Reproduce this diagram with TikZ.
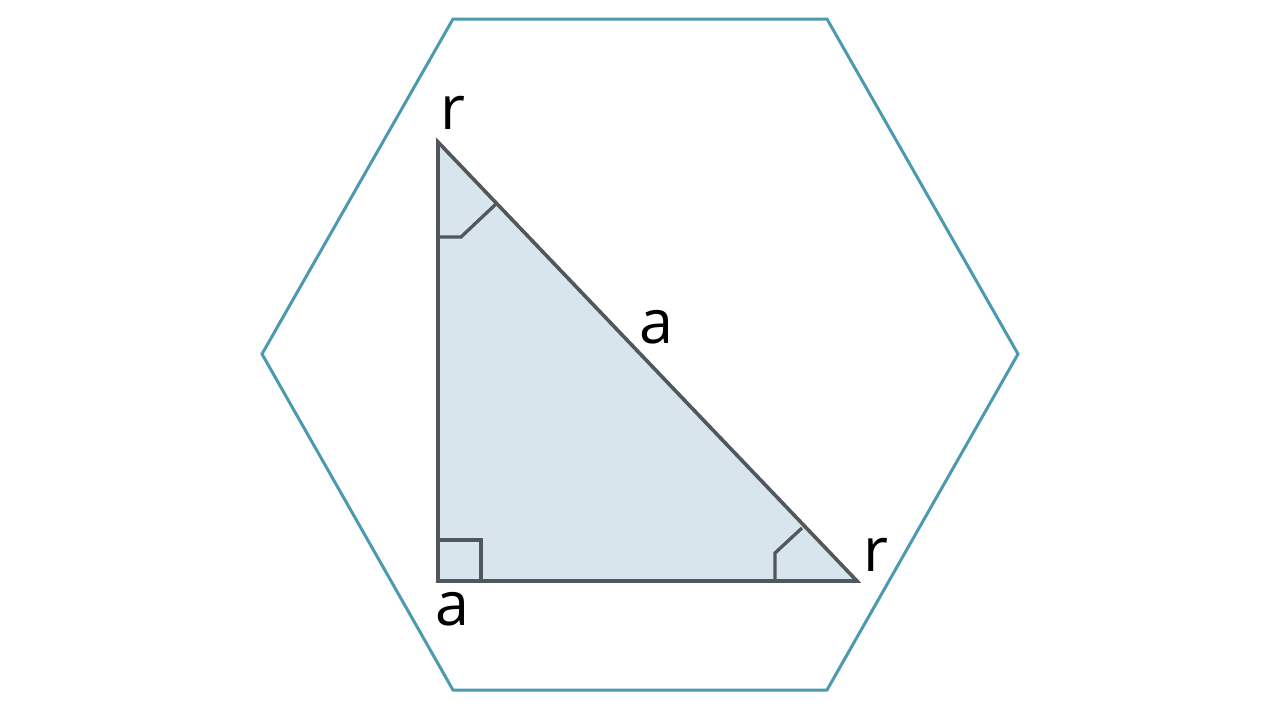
\documentclass[tikz,border=0pt]{standalone}
\usepackage{fontspec}
\setmainfont{Open Sans}
\definecolor{hexc}{HTML}{4A9AB0}
\definecolor{trifill}{HTML}{D9E5EC}
\definecolor{tristroke}{HTML}{50575D}
\tikzset{
  hexline/.style={draw=hexc, line width=3pt, line join=miter},
  triline/.style={draw=tristroke, line width=3.6pt, line join=miter},
  marker/.style={draw=tristroke, line width=3.3pt, line join=miter},
  lbl/.style={font=\fontsize{61}{66}\selectfont, text=black, inner sep=0pt}
}
\begin{document}
\begin{tikzpicture}[x=1pt,y=-1pt]
\useasboundingbox (0,0) rectangle (1280,720);
\fill[white] (0,0) rectangle (1280,720);
% hexagon
\draw[hexline] (453,19) -- (827,19) -- (1018,354) -- (827,690) -- (453,690) -- (262,354) -- cycle;
% triangle
\coordinate (T) at (438,142);
\coordinate (B) at (438,581);
\coordinate (R) at (857,581);
\fill[trifill] (T) -- (B) -- (R) -- cycle;
% angle marks
\coordinate (m1a) at (438,237); \coordinate (m1b) at (461,237); \coordinate (m1c) at (496,204);
\draw[marker] (m1a) -- (m1b) -- (m1c);
\coordinate (m2a) at (438,540); \coordinate (m2b) at (481,540); \coordinate (m2c) at (481,581);
\draw[marker] (m2a) -- (m2b) -- (m2c);
\coordinate (m3a) at (775,581); \coordinate (m3b) at (775,553); \coordinate (m3c) at (802,528);
\draw[marker] (m3a) -- (m3b) -- (m3c);
\draw[triline] (T) -- (B) -- (R) -- cycle;
% labels
\node[lbl] (lr1) at (453,113) {r};
\node[lbl] (la1) at (656,327) {a};
\node[lbl] (la2) at (452,609) {a};
\node[lbl] (lr2) at (876,555) {r};
\end{tikzpicture}
\end{document}
